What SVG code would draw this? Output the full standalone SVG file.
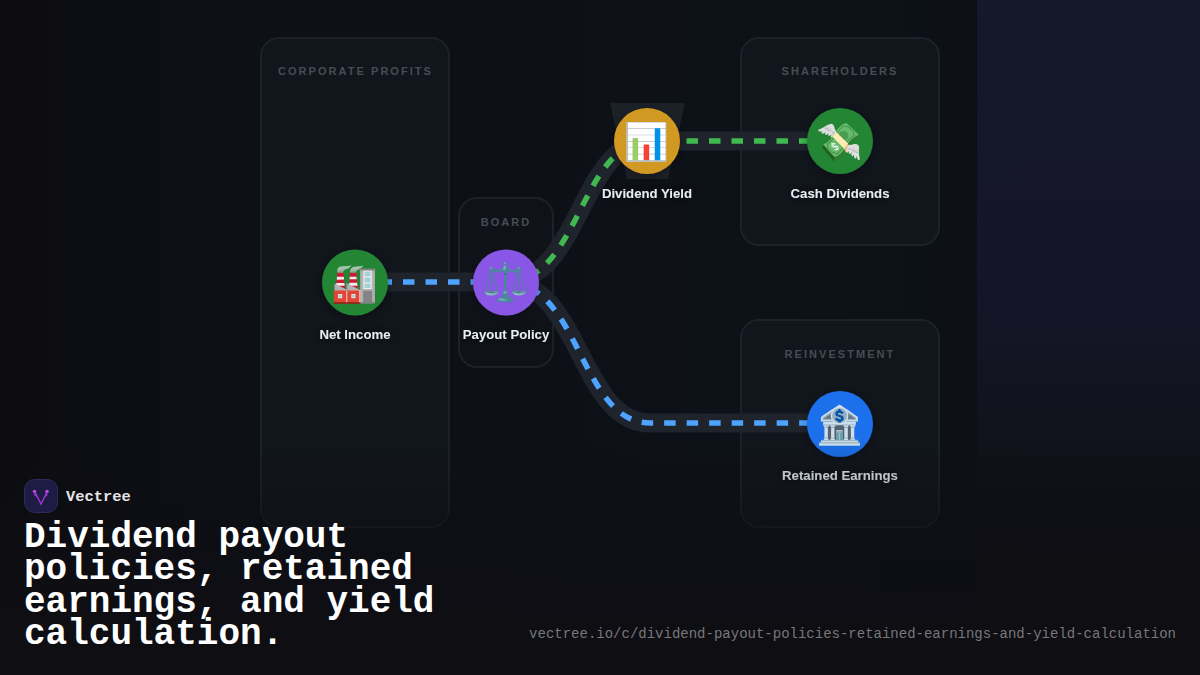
<svg xmlns="http://www.w3.org/2000/svg" width="1200" height="675" viewBox="0 0 1200 675">
<defs>
<linearGradient id="bg" x1="0" y1="0" x2="1" y2="0"><stop offset="0" stop-color="#0c0c10"/><stop offset=".2" stop-color="#0d1016"/><stop offset=".7" stop-color="#0d1118"/><stop offset="1" stop-color="#0a0e13"/></linearGradient>
<linearGradient id="panel" x1="0" y1="0" x2="0" y2="1"><stop offset="0" stop-color="#15172b"/><stop offset=".45" stop-color="#141528"/><stop offset=".6" stop-color="#13131f"/><stop offset=".72" stop-color="#0f1116"/><stop offset="1" stop-color="#0e0e13"/></linearGradient>
<linearGradient id="fade" x1="0" y1="0" x2="0" y2="1"><stop offset=".65" stop-color="#0e0e13" stop-opacity="0"/><stop offset=".71" stop-color="#0e0e13" stop-opacity="0.2"/><stop offset=".8" stop-color="#0e0e13" stop-opacity="0.6"/><stop offset=".92" stop-color="#0e0e13" stop-opacity="0.95"/><stop offset="1" stop-color="#0e0e13" stop-opacity="1"/></linearGradient>
<filter id="soft" x="-30%" y="-30%" width="160%" height="160%"><feDropShadow dx="0" dy="2" stdDeviation="5" flood-color="#000" flood-opacity=".35"/></filter>
<filter id="halo" x="-20%" y="-60%" width="140%" height="220%"><feDropShadow dx="0" dy="0" stdDeviation="5" flood-color="#000" flood-opacity=".6"/></filter>
</defs>
<style>
.grp{fill:#11151c;stroke:#1d2128;stroke-width:2}
.gl{font:700 11px "Liberation Sans",Arial,sans-serif;letter-spacing:2.05px;fill:#484c54;text-anchor:middle}
.track{fill:none;stroke:#1f242c;stroke-width:19}
.dash{fill:none;stroke-width:5.5;stroke-dasharray:11.5 11}
.blue{stroke:#4da3ff}.green{stroke:#3fb950}
.lbl{font:700 13.200px "Liberation Sans",Arial,sans-serif;fill:#e6edf3;text-anchor:middle;filter:url(#halo)}
.emo{font-family:"Noto Color Emoji","Noto Sans",sans-serif;font-size:37.500px;text-anchor:middle}
.title{font:700 36px "Liberation Mono",monospace;fill:#fff}
</style>
<rect width="1200" height="675" fill="url(#bg)"/>
<rect x="977" width="223" height="675" fill="url(#panel)"/>
<g id="groups">
<rect class="grp" x="261" y="38" width="188" height="489" rx="18"/>
<text class="gl" x="355.500" y="75">CORPORATE PROFITS</text>
<rect class="grp" x="459" y="198" width="94" height="169" rx="18" fill-opacity=".5"/>
<text class="gl" x="506" y="226">BOARD</text>
<rect class="grp" x="741" y="38" width="198" height="207" rx="18"/>
<text class="gl" x="840" y="75">SHAREHOLDERS</text>
<rect class="grp" x="741" y="320" width="198" height="207" rx="18"/>
<text class="gl" x="840" y="358">REINVESTMENT</text>
</g>
<polygon points="610,103 685,103 668,179 627,179" fill="#1c2128"/>
<g id="connectors">
<path class="track" d="M355 282H506"/>
<path class="track" d="M506 282C580 282 580 141 650 141"/>
<path class="track" d="M647 141H840"/>
<path class="track" d="M506 282C580 282 580 423 650 423H840"/>
<path class="dash blue" stroke-dashoffset="-3" d="M355 282H506"/>
<path class="dash green" stroke-dashoffset="-1.500" d="M506 282C580 282 580 141 650 141"/>
<path class="dash green" stroke-dashoffset="-17" d="M647 141H840"/>
<path class="dash blue" stroke-dashoffset="-2" d="M506 282C580 282 580 423 650 423H840"/>
</g>
<g id="net-income"><circle cx="355" cy="282.500" r="33" fill="#238636" filter="url(#soft)"/><text class="emo" x="355" y="296">🏭</text><text class="lbl" x="355" y="339">Net Income</text></g>
<g id="payout-policy"><circle cx="506" cy="282.500" r="33" fill="#8957e5" filter="url(#soft)"/><text class="emo" x="506" y="295">⚖️</text><text class="lbl" x="506" y="339">Payout Policy</text></g>
<g id="dividend-yield"><circle cx="647" cy="141" r="33" fill="#d29922" filter="url(#soft)"/><text class="emo" x="647" y="154" style="font-size:36px">📊</text><text class="lbl" x="647" y="198">Dividend Yield</text></g>
<g id="cash-dividends"><circle cx="840" cy="141" r="33" fill="#238636" filter="url(#soft)"/><text class="emo" x="840" y="154.500">💸</text><text class="lbl" x="840" y="198">Cash Dividends</text></g>
<g id="retained-earnings"><circle cx="840" cy="424" r="33" fill="#1f6feb" filter="url(#soft)"/><text class="emo" x="840" y="438">🏦</text><text class="lbl" x="840" y="480">Retained Earnings</text></g>
<rect width="1200" height="675" fill="url(#fade)"/>
<g id="brand">
<rect x="24.500" y="479.500" width="33" height="33" rx="10" fill="#1e1b45" stroke="#2e2a5c"/>
<path d="M35 492L41 504L47 492M34 494L37.500 497M47.500 494L44.500 497" fill="none" stroke="#9a35d0" stroke-width="1.500"/>
<circle cx="34.500" cy="491.500" r="1.800" fill="#b24ad6"/><circle cx="47" cy="491.500" r="1.800" fill="#b24ad6"/>
<text x="66" y="501" font-family="'Liberation Mono',monospace" font-weight="700" font-size="15.400" fill="#e6e6e6">Vectree</text>
<text class="title" x="24" y="547">Dividend payout</text>
<text class="title" x="24" y="579.400">policies, retained</text>
<text class="title" x="24" y="611.800">earnings, and yield</text>
<text class="title" x="24" y="644.200">calculation.</text>
<text x="1176" y="638" text-anchor="end" font-family="'Liberation Mono',monospace" font-size="14" fill="#77777c">vectree.io/c/dividend-payout-policies-retained-earnings-and-yield-calculation</text>
</g>
</svg>
